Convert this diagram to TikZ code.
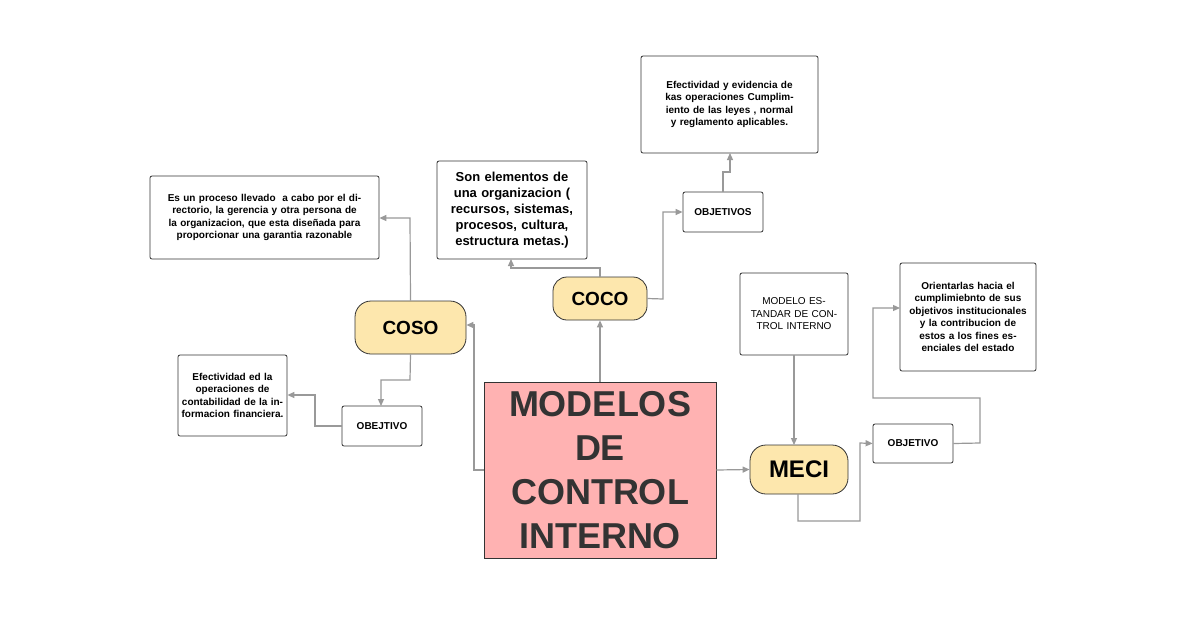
\documentclass[tikz,border=0pt]{standalone}
\usepackage{fontspec}
\setmainfont{Liberation Sans}
\usetikzlibrary{arrows.meta}
\begin{document}
\begin{tikzpicture}[x=1pt,y=-1pt,
 box/.style={draw=black!80,line width=0.8pt,rounded corners=2pt,fill=white,align=center,font=\bfseries\fontsize{10}{12.5}\selectfont,inner sep=2pt},
 pill/.style={draw=black!80,line width=0.8pt,rounded corners=16pt,fill=yellow!45!orange!30,align=center,font=\bfseries},
 con/.style={draw=black!40,line width=1.2pt,-{Triangle[length=7pt,width=6pt]}}]
\useasboundingbox (0,0) rectangle (1200,630);
\fill[white] (0,0) rectangle (1200,630);
\node[draw=black!80,line width=0.8pt,fill=red!30,minimum width=232pt,minimum height=176pt,align=center,font=\bfseries\fontsize{36}{44}\selectfont,text=black!80] (m) at (600,470) {MODELOS\\DE\\CONTROL\\INTERNO};
\node[pill,minimum width=111pt,minimum height=53pt,font=\bfseries\fontsize{19}{22}\selectfont] (coso) at (410.5,327.5) {COSO};
\node[pill,minimum width=94pt,minimum height=43pt,rounded corners=14pt,font=\bfseries\fontsize{19}{22}\selectfont] (coco) at (600,298.5) {COCO};
\node[pill,minimum width=98pt,minimum height=49pt,font=\bfseries\fontsize{24}{28}\selectfont] (meci) at (799,469.5) {MECI};
\node[box,minimum width=229pt,minimum height=83pt,text width=222pt] (t1) at (264.5,217.5) {Es un proceso llevado \ a cabo por el directorio, la gerencia y otra persona de la organizacion, que esta diseñada para proporcionar una garantia razonable};
\node[box,minimum width=109pt,minimum height=81pt,text width=104pt] (t2) at (232.5,395.5) {Efectividad ed la operaciones de contabilidad de la informacion financiera.};
\node[box,minimum width=80pt,minimum height=40pt] (o1) at (382,426) {OBEJTIVO};
\node[box,minimum width=150pt,minimum height=98pt,text width=144pt,font=\bfseries\fontsize{13}{16}\selectfont] (t3) at (512,210) {Son elementos de una organizacion ( recursos, sistemas, procesos, cultura, estructura metas.)};
\node[box,minimum width=80pt,minimum height=40pt] (o2) at (723,212) {OBJETIVOS};
\node[box,minimum width=177pt,minimum height=97pt,text width=170pt] (t4) at (729.5,104.5) {Efectividad y evidencia de kas operaciones Cumplimiento de las leyes , normal y reglamento aplicables.};
\node[box,minimum width=108pt,minimum height=82pt,text width=100pt,font=\fontsize{10}{12.5}\selectfont] (t5) at (794,314) {MODELO ESTANDAR DE CONTROL INTERNO};
\node[box,minimum width=136pt,minimum height=108pt,text width=130pt] (t6) at (968,317) {Orientarlas hacia el cumplimiebnto de sus objetivos institucionales y la contribucion de estos a los fines esenciales del estado};
\node[box,minimum width=80pt,minimum height=39pt] (o3) at (913,443.5) {OBJETIVO};
\path[con] (m.west|-0,470) -- (474,470) -- (474,325) -- (coso.east|-0,325);
\path[con] (m.north) -- (coco.south);
\path[con] (m.east) -- (meci.west);
\path[con] (coso.north) -- (410,218) -- (t1.east|-0,218);
\path[con] (coso.south) -- (410,380) -- (381,380) -- (381,406);
\path[con] (o1.west) -- (315,426) -- (315,395) -- (t2.east|-0,395);
\path[con] (coco.north) -- (600,268) -- (511,268) -- (511,259);
\path[con] (coco.east) -- (663,299) -- (663,212) -- (o2.west);
\path[con] (o2.north) -- (723,172) -- (730,172) -- (730,153);
\path[con] (t5.south) -- (794,445);
\path[con] (798,494) -- (798,521) -- (860,521) -- (860,443) -- (o3.west);
\path[con] (o3.east) -- (980,443) -- (980,398) -- (873,398) -- (873,308) -- (900,308);
\end{tikzpicture}
\end{document}
